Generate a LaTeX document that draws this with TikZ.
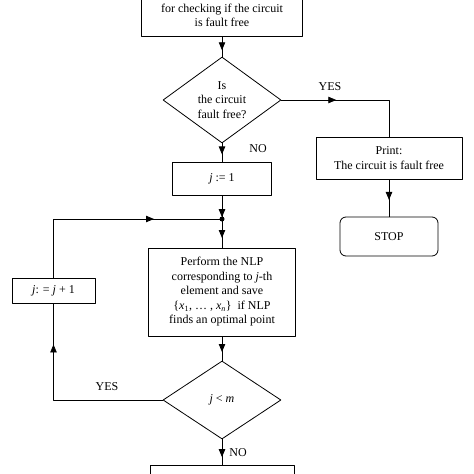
\documentclass[tikz,border=0pt]{standalone}
\usepackage{fontspec}
\setmainfont{Liberation Serif}
\usetikzlibrary{arrows}
\usetikzlibrary{shapes.geometric}
\usetikzlibrary{decorations.markings}

\begin{document}
\begin{tikzpicture}[x=1pt, y=-1pt, line cap = round, line join = round, >=triangle 45,
  midarrow/.style={postaction={decorate, decoration={markings, mark=at position #1 with {\arrow{>}}}}}]
\tikzstyle{box}=[rectangle, draw=black, line width=0.8pt, align=center, inner sep=2pt, font=\fontsize{12}{14.5}\selectfont]
\tikzstyle{test}=[diamond, draw=black, line width=0.8pt, align=center, inner sep=0pt, minimum width=118, minimum height=78, font=\fontsize{12}{14.5}\selectfont]
\tikzstyle{term}=[box, rounded corners=6pt]
\tikzstyle{answer}=[inner sep=0pt, font=\fontsize{12}{14.5}\selectfont]
\tikzstyle{flow}=[line width=0.8pt]
\useasboundingbox (0,0) rectangle (474,474);

\node[box, minimum width=161, minimum height=41] (check) at (222,15.5) {for checking if the circuit\\is fault free};
\node[test] (fault) at (222,100) {Is\\the circuit\\fault free?};
\node[box, minimum width=146, minimum height=42] (print) at (389,158) {Print:\\The circuit is fault free};
\node[term, minimum width=98, minimum height=39] (stop) at (389,236.5) {STOP};
\node[box, minimum width=99, minimum height=33] (init) at (222,178.5) {\textit{j} := 1};
\coordinate (join) at (222,219);
\node[box, minimum width=147, minimum height=88] (nlp) at (222,292) {Perform the NLP\\corresponding to \textit{j}-th\\element and save\\\{\textit{x}\textsubscript{1}, \dots\ , \textit{x}\textsubscript{\textit{n}}\}\ \ if NLP\\finds an optimal point};
\node[test] (last) at (222,400) {\textit{j} < \textit{m}};
\node[box, minimum width=83, minimum height=25] (next) at (53.5,290.5) {\textit{j}: = \textit{j} + 1};
\node[box, minimum width=144, minimum height=30] (done) at (222,480) {};

\node[answer] (yes1) at (330,87) {YES};
\node[answer] (no1) at (258,149) {NO};
\node[answer] (yes2) at (107,387) {YES};
\node[answer] (no2) at (238,453) {NO};

\draw[flow, midarrow=0.68] (check) -- (fault);
\draw[flow, midarrow=0.38] (fault.east) -| (print.north);
\draw[flow, midarrow=0.55] (print) -- (stop);
\draw[flow, midarrow=0.6] (fault) -- (init);
\draw[flow, midarrow=0.92] (init) -- (join);
\draw[flow, midarrow=0.66] (join) -- (nlp);
\draw[flow, midarrow=0.64] (nlp) -- (last);
\draw[flow, midarrow=0.7] (last) -- (done);
\draw[flow, midarrow=0.8] (last.west) -| (next.south);
\draw[flow, midarrow=0.7] (next.north) |- (join);
\fill (join) circle (2.5);
%\draw (join) circle (4);
\end{tikzpicture}
\end{document}
